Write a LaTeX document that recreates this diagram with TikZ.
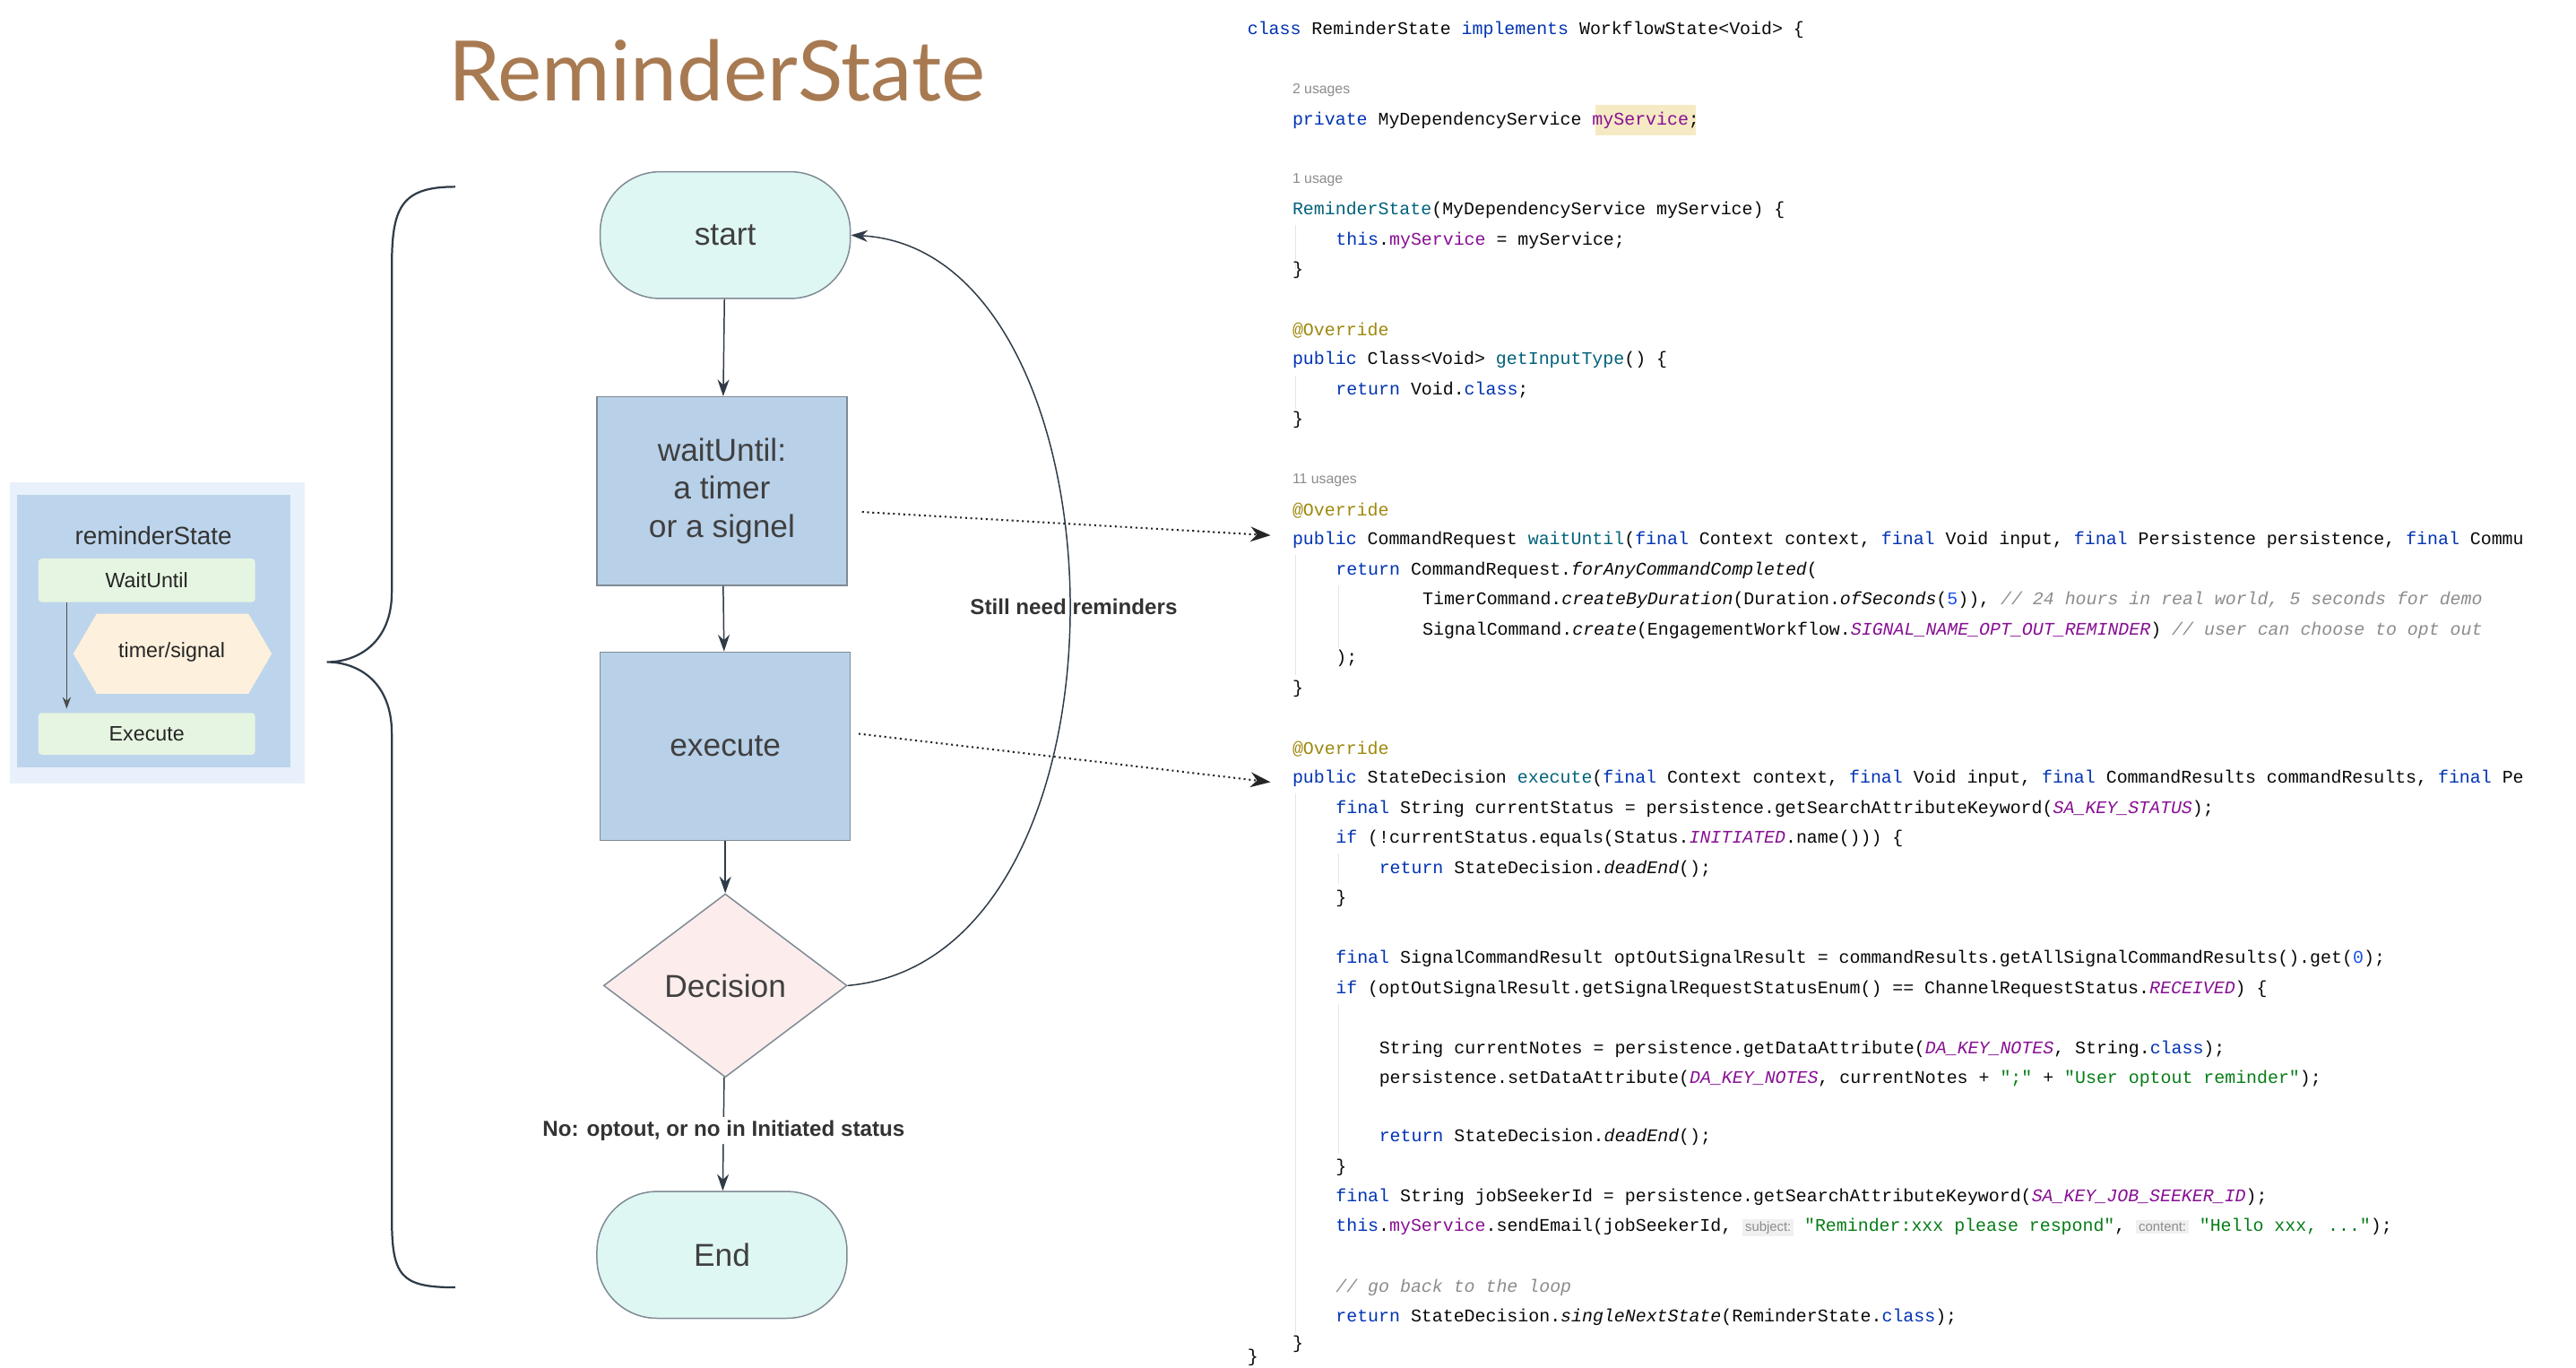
\documentclass[tikz,border=0pt]{standalone}
\usepackage{fontspec}
\setmainfont{Liberation Sans}
\newfontfamily\codefont{Liberation Mono}
\newfontfamily\titlefont{Lato}
\usetikzlibrary{shapes.geometric,arrows.meta}
\definecolor{kwc}{HTML}{0033B3}
\definecolor{fdc}{HTML}{871094}
\definecolor{mtc}{HTML}{00627A}
\definecolor{anc}{HTML}{9E880D}
\definecolor{cmc}{HTML}{8C8C8C}
\definecolor{stc}{HTML}{067D17}
\definecolor{nmc}{HTML}{1750EB}
\definecolor{txc}{HTML}{080808}
\definecolor{edgec}{HTML}{2F3B47}
\definecolor{shapeb}{HTML}{7F8A94}
\definecolor{titlec}{RGB}{168,122,82}
\definecolor{stadc}{RGB}{223,247,243}
\definecolor{boxc}{RGB}{184,208,232}
\definecolor{decc}{RGB}{252,236,236}
\definecolor{outerc}{RGB}{232,241,251}
\definecolor{innerc}{RGB}{189,213,236}
\definecolor{greenc}{RGB}{230,245,225}
\definecolor{creamc}{RGB}{253,240,220}
\definecolor{hlc}{RGB}{245,234,195}
\newcommand\Ckw[1]{\textcolor{kwc}{#1}}
\newcommand\Cfd[1]{\textcolor{fdc}{#1}}
\newcommand\Cfi[1]{\textcolor{fdc}{\itshape #1}}
\newcommand\Cmt[1]{\textcolor{mtc}{#1}}
\newcommand\Can[1]{\textcolor{anc}{#1}}
\newcommand\Ccm[1]{\textcolor{cmc}{\itshape #1}}
\newcommand\Cst[1]{\textcolor{stc}{#1}}
\newcommand\Cnm[1]{\textcolor{nmc}{#1}}
\newcommand\Chint[1]{{\setlength{\fboxsep}{1.5pt}\colorbox{black!6}{\rmfamily\fontsize{8}{9}\selectfont\textcolor{cmc}{#1}}}}
\begin{document}
\begin{tikzpicture}[x=1pt,y=-1pt,
  code/.style={anchor=west,inner sep=0pt,font=\codefont\fontsize{10.7}{12}\selectfont,text=txc},
  usage/.style={anchor=west,inner sep=0pt,font=\fontsize{8.5}{10}\selectfont,text=cmc},
  flow/.style={draw=shapeb,line width=0.8pt,text=black!75,font=\fontsize{19}{23}\selectfont,align=center},
  stadium/.style={flow,rounded corners=36pt,fill=stadc,minimum width=150pt,minimum height=76pt},
  box/.style={flow,fill=boxc,minimum width=150pt,minimum height=113pt},
  arr/.style={-{Stealth[length=10pt,width=7pt]},draw=edgec,line width=0.8pt},
  dotarr/.style={-{Stealth[length=12pt,width=9pt]},draw=black!85,line width=1.1pt,dotted},
  lbl/.style={font=\bfseries\fontsize{13}{15}\selectfont,text=black!80},
  mini/.style={text=black!85,font=\fontsize{12.5}{15}\selectfont}]
\useasboundingbox (0,0) rectangle (1545,820.3);
\fill[white] (0,0) rectangle (1545,820.3);

% title
\node[text=titlec,font=\titlefont\fontsize{50}{58}\selectfont] (title) at (430,42) {ReminderState};

% flowchart
\node[stadium] (start) at (435,141) {start};
\node[box] (wait) at (433,294.5) {waitUntil:\\a timer\\or a signel};
\node[box] (exec) at (435,447.5) {execute};
\node[flow,diamond,fill=decc,minimum width=146pt,minimum height=110pt,aspect=1.33,inner sep=0pt] (dec) at (435,591) {Decision};
\node[stadium] (end) at (433,752.5) {End};
\draw[arr] (start) -- (wait);
\draw[arr] (wait) -- (exec);
\draw[arr] (exec) -- (dec);
\draw[arr] (dec) -- (end);
\node[lbl,fill=white,inner sep=2pt] (nolbl) at (434,678) {No: optout, or no in Initiated status};
\draw[arr] (dec.east) .. controls (690,575) and (680,150) .. (start.east);
\node[lbl] (still) at (644,364) {Still need reminders};

% dotted arrows
\coordinate (t1) at (762,321);
\coordinate (t2) at (762,469);
\draw[dotarr] (517,307) -- (t1);
\draw[dotarr] (515,440) -- (t2);

% brace
\draw[edgec,line width=1.2pt] (273,112) .. controls (240,112) and (235,125) .. (235,160) -- (235,355)
  .. controls (235,385) and (215,397) .. (196,397)
  .. controls (215,397) and (235,409) .. (235,440) -- (235,730)
  .. controls (235,765) and (240,772) .. (273,772);

% mini state box
\fill[outerc] (6,289) rectangle (183,470);
\fill[innerc] (10,297) rectangle (174,460);
\node[text=black!80,font=\fontsize{15}{18}\selectfont] (rs) at (92,321) {reminderState};
\node[mini,fill=greenc,rounded corners=2pt,minimum width=130pt,minimum height=26pt,inner sep=0pt] (wu) at (88,348) {WaitUntil};
\fill[creamc] (44,392) -- (58,368) -- (149,368) -- (163,392) -- (149,416) -- (58,416) -- cycle;
\node[mini] (tsl) at (103,391) {timer/signal};
\node[mini,fill=greenc,rounded corners=2pt,minimum width=130pt,minimum height=25pt,inner sep=0pt] (ex) at (88,440) {Execute};
\draw[-{Stealth[length=7pt,width=5pt]},black!70,line width=0.8pt] (40,361) -- (40,425);

% code indent guides
\begin{scope}[black!10,line width=0.8pt]
\draw (777,135) -- (777,162);
\draw (777,225) -- (777,245);
\draw (777,333) -- (777,405);
\draw (803,351) -- (803,388);
\draw (777,476) -- (777,800);
\draw (803,512) -- (803,530);
\draw (803,602) -- (803,692);
\end{scope}
\fill[hlc] (957,63) rectangle (1017,81);

% code
\node[code] (c1) at (748,18) {\Ckw{class} ReminderState \Ckw{implements} WorkflowState<Void> \{};
\node[usage] (u1) at (775,54) {2 usages};
\node[code] (c2) at (775,72) {\Ckw{private} MyDependencyService \Cfd{myService};};
\node[usage] (u2) at (775,108) {1 usage};
\node[code] (c3) at (775,126) {\Cmt{ReminderState}(MyDependencyService myService) \{};
\node[code] (c4) at (801,144) {\Ckw{this}.\Cfd{myService} = myService;};
\node[code] (c5) at (775,162) {\}};
\node[code] (c6) at (775,198) {\Can{@Override}};
\node[code] (c7) at (775,216) {\Ckw{public} Class<Void> \Cmt{getInputType}() \{};
\node[code] (c8) at (801,234) {\Ckw{return} Void.\Ckw{class};};
\node[code] (c9) at (775,252) {\}};
\node[usage] (u3) at (775,288) {11 usages};
\node[code] (c10) at (775,306) {\Can{@Override}};
\node[code] (c11) at (775,324) {\Ckw{public} CommandRequest \Cmt{waitUntil}(\Ckw{final} Context context, \Ckw{final} Void input, \Ckw{final} Persistence persistence, \Ckw{final} Commu};
\node[code] (c12) at (801,342) {\Ckw{return} CommandRequest.\textit{forAnyCommandCompleted}(};
\node[code] (c13) at (853,360) {TimerCommand.\textit{createByDuration}(Duration.\textit{ofSeconds}(\Cnm{5})), \Ccm{// 24 hours in real world, 5 seconds for demo}};
\node[code] (c14) at (853,378) {SignalCommand.\textit{create}(EngagementWorkflow.\Cfi{SIGNAL\_NAME\_OPT\_OUT\_REMINDER}) \Ccm{// user can choose to opt out}};
\node[code] (c15) at (801,395) {);};
\node[code] (c16) at (775,413) {\}};
\node[code] (c17) at (775,449) {\Can{@Override}};
\node[code] (c18) at (775,467) {\Ckw{public} StateDecision \Cmt{execute}(\Ckw{final} Context context, \Ckw{final} Void input, \Ckw{final} CommandResults commandResults, \Ckw{final} Pe};
\node[code] (c19) at (801,485) {\Ckw{final} String currentStatus = persistence.getSearchAttributeKeyword(\Cfi{SA\_KEY\_STATUS});};
\node[code] (c20) at (801,503) {\Ckw{if} (!currentStatus.equals(Status.\Cfi{INITIATED}.name())) \{};
\node[code] (c21) at (827,521) {\Ckw{return} StateDecision.\textit{deadEnd}();};
\node[code] (c22) at (801,539) {\}};
\node[code] (c23) at (801,575) {\Ckw{final} SignalCommandResult optOutSignalResult = commandResults.getAllSignalCommandResults().get(\Cnm{0});};
\node[code] (c24) at (801,593) {\Ckw{if} (optOutSignalResult.getSignalRequestStatusEnum() == ChannelRequestStatus.\Cfi{RECEIVED}) \{};
\node[code] (c25) at (827,629) {String currentNotes = persistence.getDataAttribute(\Cfi{DA\_KEY\_NOTES}, String.\Ckw{class});};
\node[code] (c26) at (827,647) {persistence.setDataAttribute(\Cfi{DA\_KEY\_NOTES}, currentNotes + \Cst{";"} + \Cst{"User optout reminder"});};
\node[code] (c27) at (827,682) {\Ckw{return} StateDecision.\textit{deadEnd}();};
\node[code] (c28) at (801,700) {\}};
\node[code] (c29) at (801,718) {\Ckw{final} String jobSeekerId = persistence.getSearchAttributeKeyword(\Cfi{SA\_KEY\_JOB\_SEEKER\_ID});};
\node[code] (c30) at (801,736) {\Ckw{this}.\Cfd{myService}.sendEmail(jobSeekerId, \Chint{subject:} \Cst{"Reminder:xxx please respond"}, \Chint{content:} \Cst{"Hello xxx, ..."});};
\node[code] (c31) at (801,772) {\Ccm{// go back to the loop}};
\node[code] (c32) at (801,790) {\Ckw{return} StateDecision.\textit{singleNextState}(ReminderState.\Ckw{class});};
\node[code] (c33) at (775,806) {\}};
\node[code] (c34) at (748,814) {\}};
\end{tikzpicture}
\end{document}
